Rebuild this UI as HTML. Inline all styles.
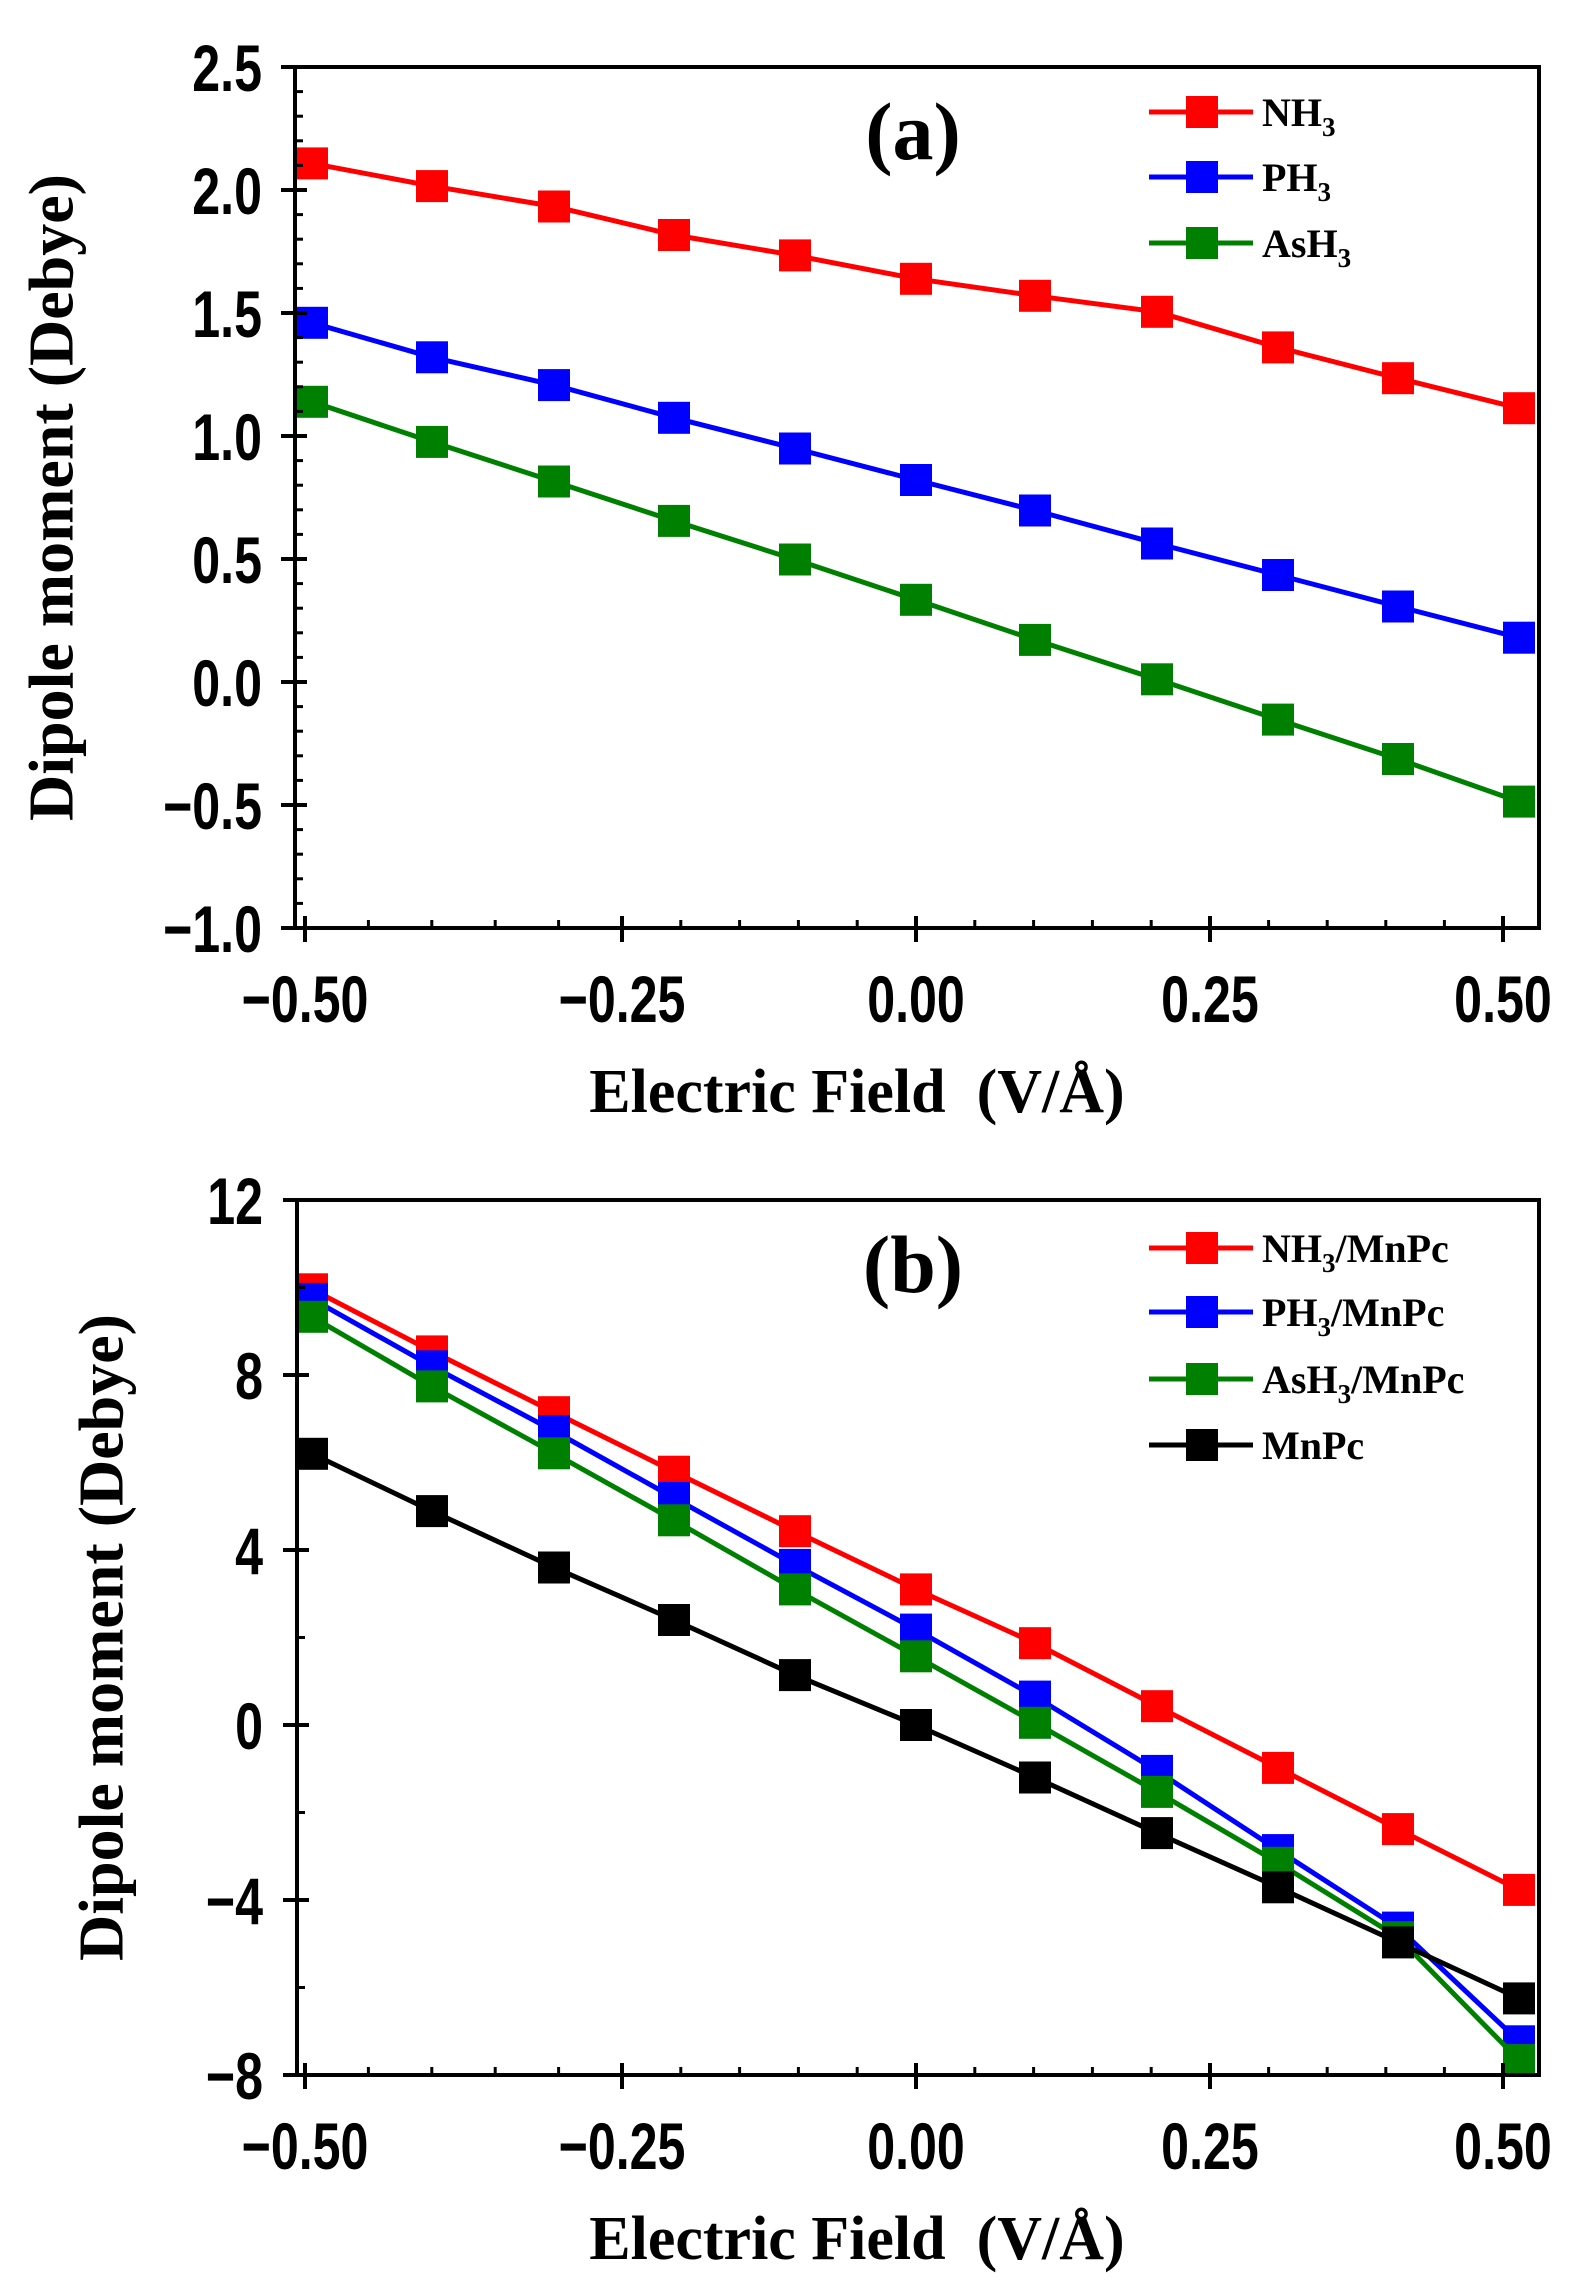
<!DOCTYPE html>
<html><head><meta charset="utf-8"><style>
html,body{margin:0;padding:0;background:#fff;}
svg{display:block;}
</style></head><body>
<svg id="s" width="1595" height="2285" viewBox="0 0 1595 2285" xmlns="http://www.w3.org/2000/svg"></svg>
<script>
const S=document.getElementById('s');let h='';
const XS=[312,432,554,674,795,916,1035,1157,1278,1398,1519];
const XT=[[305,'\u22120.50'],[622,'\u22120.25'],[916,'0.00'],[1210,'0.25'],[1503,'0.50']];
function xOf(v){
  const vs=[-0.5,-0.25,0,0.25,0.5];
  for(let i=0;i<4;i++){ if(v<=vs[i+1]||i==3){const t=(v-vs[i])/(vs[i+1]-vs[i]);return XT[i][0]+t*(XT[i+1][0]-XT[i][0]);} }
}
function panel(o){
  const L=o.L,R=1539,T=o.T,B=o.B;
  const yv=v=>T+(o.ymax-v)/(o.ymax-o.ymin)*(B-T);
  o.series.forEach(s=>{
    const pts=s.d.map((v,i)=>XS[i]+','+yv(v).toFixed(1)).join(' ');
    h+=`<polyline points="${pts}" fill="none" stroke="${s.c}" stroke-width="5"/>`;
    s.d.forEach((v,i)=>{h+=`<rect x="${XS[i]-16}" y="${(yv(v)-16).toFixed(1)}" width="32" height="32" fill="${s.c}"/>`;});
  });
  h+=`<rect x="${L}" y="${T}" width="${R-L}" height="${B-T}" fill="none" stroke="#000" stroke-width="4"/>`;
  XT.forEach(t=>{h+=`<line x1="${t[0]}" y1="${B-12}" x2="${t[0]}" y2="${B+14}" stroke="#000" stroke-width="4"/>`;
    h+=`<text x="${t[0]}" y="${B+94}" font-family="Liberation Sans,sans-serif" font-weight="bold" font-size="66" text-anchor="middle" transform="translate(${t[0]},0) scale(0.76,1) translate(${-t[0]},0)">${t[1]}</text>`;});
  for(let v=-0.5;v<=0.5001;v+=0.05){const x=xOf(v);h+=`<line x1="${x}" y1="${B-8}" x2="${x}" y2="${B}" stroke="#000" stroke-width="3"/>`;}
  o.yt.forEach(v=>{const y=yv(v);h+=`<line x1="${L-14}" y1="${y}" x2="${L+12}" y2="${y}" stroke="#000" stroke-width="4"/>`;
    const lab=(v<0?'\u2212':'')+(o.dec?Math.abs(v).toFixed(1):Math.abs(v));
    h+=`<text x="${o.lx}" y="${y+24}" font-family="Liberation Sans,sans-serif" font-weight="bold" font-size="66" text-anchor="end" transform="translate(${o.lx},0) scale(0.76,1) translate(${-o.lx},0)">${lab}</text>`;});
  o.ym.forEach(v=>{const y=yv(v);h+=`<line x1="${L}" y1="${y}" x2="${L+8}" y2="${y}" stroke="#000" stroke-width="3"/>`;});
  h+=`<text x="857" y="${B+184}" font-family="Liberation Serif,serif" font-weight="bold" font-size="62" text-anchor="middle" xml:space="preserve">Electric Field  (V/Å)</text>`;
  h+=`<text transform="translate(${o.tx},${(T+B)/2}) rotate(-90)" font-family="Liberation Serif,serif" font-weight="bold" font-size="64" text-anchor="middle" dominant-baseline="middle">Dipole moment (Debye)</text>`;
  h+=`<text x="913" y="${T+92}" font-family="Liberation Serif,serif" font-weight="bold" font-size="82" text-anchor="middle">${o.lab}</text>`;
  o.series.forEach((s,i)=>{const y=o.legY[i];
    h+=`<line x1="1149" y1="${y}" x2="1253" y2="${y}" stroke="${s.c}" stroke-width="5"/>`;
    h+=`<rect x="1186" y="${y-16}" width="32" height="32" fill="${s.c}"/>`;
    h+=`<text x="1262" y="${y+14}" font-family="Liberation Serif,serif" font-weight="bold" font-size="40">${s.n}</text>`;});
}
function nm(a,b){return `<tspan>${a}</tspan><tspan font-size="27" dy="10">3</tspan>`+(b?`<tspan dy="-10">${b}</tspan>`:'');}
panel({L:295,T:67,B:928,ymax:2.5,ymin:-1,lx:262,tx:58,lab:'(a)',dec:true,
  yt:[2.5,2,1.5,1,0.5,0,-0.5,-1],
  ym:(()=>{let a=[];for(let v=-1;v<2.5;v+=0.1){if(Math.abs(v*2-Math.round(v*2))>0.01)a.push(v);}return a;})(),
  legY:[112,177,243],
  series:[
   {n:nm('NH'),c:'#ff0000',d:[2.108,2.016,1.933,1.817,1.734,1.639,1.570,1.505,1.360,1.235,1.113]},
   {n:nm('PH'),c:'#0000ff',d:[1.46,1.32,1.207,1.074,0.949,0.821,0.697,0.563,0.435,0.307,0.180]},
   {n:nm('AsH'),c:'#008000',d:[1.139,0.976,0.815,0.655,0.498,0.334,0.171,0.011,-0.153,-0.313,-0.486]}]});
panel({L:297,T:1200,B:2075,ymax:12,ymin:-8,lx:263,tx:108,lab:'(b)',dec:false,
  yt:[12,8,4,0,-4,-8],ym:[10,6,2,-2,-6],
  legY:[1248,1312,1379,1445],
  series:[
   {n:nm('NH','/MnPc'),c:'#ff0000',d:[9.96,8.54,7.15,5.79,4.43,3.10,1.87,0.43,-0.98,-2.38,-3.77]},
   {n:nm('PH','/MnPc'),c:'#0000ff',d:[9.74,8.20,6.72,5.19,3.66,2.18,0.65,-1.05,-2.86,-4.63,-7.23]},
   {n:nm('AsH','/MnPc'),c:'#008000',d:[9.33,7.74,6.21,4.68,3.10,1.57,0.05,-1.53,-3.15,-4.85,-7.66]},
   {n:'MnPc',c:'#000000',d:[6.2,4.89,3.6,2.4,1.14,0,-1.2,-2.47,-3.71,-4.97,-6.25]}]});
S.innerHTML=h;
</script>
</body></html>
